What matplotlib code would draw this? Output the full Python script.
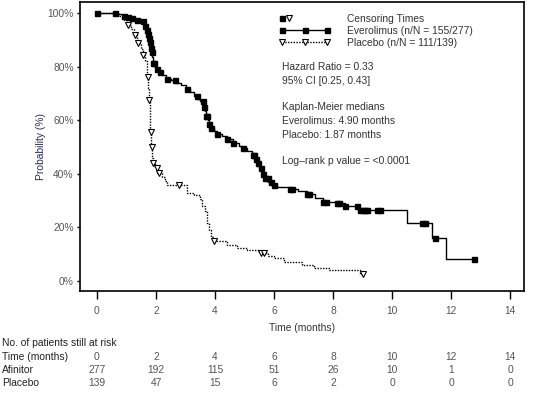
import numpy as np
import matplotlib
matplotlib.use("Agg")
import matplotlib.pyplot as plt
import matplotlib.transforms as mtransforms
from matplotlib.lines import Line2D
from matplotlib.legend_handler import HandlerBase, HandlerLine2D

plt.rcParams['font.family'] = ['Liberation Sans', 'DejaVu Sans']

# ---- data ----
ev_times = [0.0, 0.7, 0.85, 1.0, 1.15, 1.3, 1.5, 1.6, 1.65, 1.7, 1.75, 1.8, 1.83, 1.86, 1.88, 1.9,
            1.95, 2.0, 2.1, 2.2, 2.35, 2.5, 2.65, 2.85, 3.0, 3.15, 3.3, 3.4, 3.5, 3.6, 3.65, 3.7,
            3.75, 3.8, 3.85, 3.95, 4.05, 4.25, 4.4, 4.6, 4.8, 4.9, 5.1, 5.25, 5.35, 5.45, 5.5, 5.6,
            5.7, 5.8, 5.95, 6.1, 6.5, 6.8, 7.1, 7.4, 7.65, 8.1, 8.4, 8.85, 10.5, 11.35, 11.82, 12.76]
ev_surv = [1.00, 0.995, 0.99, 0.985, 0.98, 0.975, 0.97, 0.95, 0.935, 0.92, 0.905, 0.89, 0.87, 0.855,
           0.835, 0.815, 0.80, 0.79, 0.78, 0.77, 0.755, 0.75, 0.74, 0.73, 0.715, 0.705, 0.69, 0.68,
           0.67, 0.65, 0.635, 0.615, 0.60, 0.585, 0.57, 0.56, 0.55, 0.54, 0.53, 0.515, 0.505, 0.495,
           0.485, 0.47, 0.455, 0.44, 0.42, 0.40, 0.385, 0.37, 0.36, 0.35, 0.345, 0.335, 0.325, 0.31,
           0.295, 0.29, 0.28, 0.265, 0.215, 0.162, 0.082, 0.082]
ev_censor = [0.0, 0.62, 0.9, 1.05, 1.2, 1.35, 1.55, 1.62, 1.68, 1.72, 1.76, 1.8, 1.84, 1.87, 1.9,
             1.93, 2.02, 2.14, 2.36, 2.64, 3.04, 3.38, 3.58, 3.64, 3.7, 3.74, 3.8, 3.86, 4.06, 4.4,
             4.62, 4.95, 5.28, 5.33, 5.4, 5.47, 5.55, 5.62, 5.7, 5.78, 5.9, 6.0, 6.54, 6.6, 7.1, 7.2,
             7.67, 7.75, 8.13, 8.2, 8.42, 8.82, 8.9, 9.0, 9.08, 9.15, 9.5, 9.6, 11.0, 11.1, 11.47, 12.76]

pl_times = [0.0, 0.75, 0.9, 1.0, 1.15, 1.25, 1.35, 1.4, 1.5, 1.55, 1.62, 1.68, 1.70, 1.74, 1.76,
            1.79, 1.81, 1.84, 1.88, 1.90, 1.97, 2.05, 2.2, 2.3, 2.36, 3.05, 3.3, 3.5, 3.55, 3.65,
            3.72, 3.8, 3.85, 3.95, 4.4, 4.75, 5.1, 5.5, 5.8, 6.0, 6.35, 6.95, 7.35, 7.85, 8.9, 9.03]
pl_surv = [1.0, 0.99, 0.975, 0.955, 0.94, 0.918, 0.90, 0.887, 0.865, 0.843, 0.82, 0.79, 0.762,
           0.72, 0.675, 0.62, 0.557, 0.50, 0.46, 0.44, 0.42, 0.405, 0.39, 0.375, 0.36, 0.33, 0.32,
           0.305, 0.28, 0.26, 0.215, 0.19, 0.165, 0.15, 0.135, 0.125, 0.115, 0.105, 0.095, 0.085,
           0.07, 0.06, 0.048, 0.04, 0.025, 0.025]
pl_censor = [1.06, 1.29, 1.4, 1.57, 1.72, 1.77, 1.82, 1.86, 1.91, 2.02, 2.1, 2.79, 3.95, 5.55,
             5.65, 9.03]

risk_times = [0, 2, 4, 6, 8, 10, 12, 14]
risk_afinitor = [277, 192, 115, 51, 26, 10, 1, 0]
risk_placebo = [139, 47, 15, 6, 2, 0, 0, 0]

y_ticks = [0, 0.2, 0.4, 0.6, 0.8, 1.0]
y_ticklabels = ['0%', '20%', '40%', '60%', '80%', '100%']


def step_value(times, surv, t):
    idx = np.searchsorted(np.asarray(times), np.asarray(t), side='right') - 1
    return np.asarray(surv)[idx]


W, H = 534, 393
FS = 7.4
fig = plt.figure(figsize=(W / 100, H / 100), dpi=100)
ax = fig.add_axes([80 / W, 1 - 291 / H, (524 - 80) / W, (291 - 2) / H])

SQ = 3.6
TR = 4.6
ax.step(ev_times, ev_surv, where='post', color='black', lw=1.0)
ax.plot(ev_censor, step_value(ev_times, ev_surv, ev_censor), ls='none', marker='s',
        ms=SQ, color='black')
ax.step(pl_times, pl_surv, where='post', color='black', lw=1.0, ls=(0, (1, 1)))
ax.plot(pl_censor, step_value(pl_times, pl_surv, pl_censor), ls='none', marker='v',
        ms=TR, mfc='white', mec='black', mew=0.8)

ax.set_xlim(-0.576, 14.47)
ax.set_ylim(-0.037, 1.041)
ax.set_xticks(risk_times)
ax.set_xticklabels([str(t) for t in risk_times])
ax.set_yticks(y_ticks)
ax.set_yticklabels(y_ticklabels)
ax.tick_params(axis='x', direction='out', length=5.5, width=1, pad=5, labelsize=FS, labelcolor='#555555')
ax.tick_params(axis='y', direction='out', length=2.5, width=1, pad=2, labelsize=FS, labelcolor='#555555')
for s in ax.spines.values():
    s.set_linewidth(1.2)
ax.set_xlabel('Time (months)', fontsize=FS, color='#333333', labelpad=5)
ax.set_ylabel('Probability (%)', fontsize=FS, color='#2b2b55', labelpad=1)


class CensorHandler(HandlerBase):
    def create_artists(self, legend, orig_handle, xdescent, ydescent, width, height, fontsize, trans):
        y = height / 2 - ydescent
        a = Line2D([-xdescent + 2], [y], marker='s', ms=SQ, color='black', ls='none', transform=trans)
        b = Line2D([-xdescent + 7.5], [y], marker='v', ms=TR, mfc='white', mec='black', mew=0.8,
                   ls='none', transform=trans)
        return [a, b]


cens_h = Line2D([], [], ls='none')
ev_h = Line2D([], [], color='black', lw=1.0, marker='s', ms=SQ)
pl_h = Line2D([], [], color='black', lw=1.0, ls=(0, (1, 1)), marker='v', ms=TR, mfc='white', mew=0.8)
leg = ax.legend([cens_h, ev_h, pl_h],
                ['Censoring Times', 'Everolimus (n/N = 155/277)', 'Placebo (n/N = 111/139)'],
                handler_map={cens_h: CensorHandler(), ev_h: HandlerLine2D(numpoints=3),
                             pl_h: HandlerLine2D(numpoints=3)},
                loc='upper left', bbox_to_anchor=(279 / W, 1 - 13.5 / H), bbox_transform=fig.transFigure,
                frameon=False, fontsize=FS, handlelength=5.0, handletextpad=1.6, labelspacing=0.2,
                borderpad=0, borderaxespad=0)
for t in leg.get_texts():
    t.set_color('#333333')


def ftext(x, y, s, **kw):
    kw.setdefault('fontsize', FS)
    kw.setdefault('color', '#333333')
    fig.text(x / W, 1 - y / H, s, va='center', **kw)


ftext(282, 67, 'Hazard Ratio = 0.33')
ftext(282, 81, '95% CI [0.25, 0.43]')
ftext(282, 107, 'Kaplan-Meier medians')
ftext(282, 121, 'Everolimus: 4.90 months')
ftext(282, 135, 'Placebo: 1.87 months')
ftext(282, 161, 'Log\u2013rank p value = <0.0001')

# risk table
ftext(2, 343, 'No. of patients still at risk', color='#222222')
ftext(2, 357, 'Time (months)', color='#222222')
ftext(2, 370, 'Afinitor', color='#222222')
ftext(2, 383, 'Placebo', color='#222222')
blend = mtransforms.blended_transform_factory(ax.transData, fig.transFigure)
for t, a, p in zip(risk_times, risk_afinitor, risk_placebo):
    for yy, s in ((357, str(t)), (370, str(a)), (383, str(p))):
        fig.text(t, 1 - yy / H, s, transform=blend, ha='center', va='center',
                 fontsize=FS, color='#555555')

fig.savefig('out.png', dpi=100)
